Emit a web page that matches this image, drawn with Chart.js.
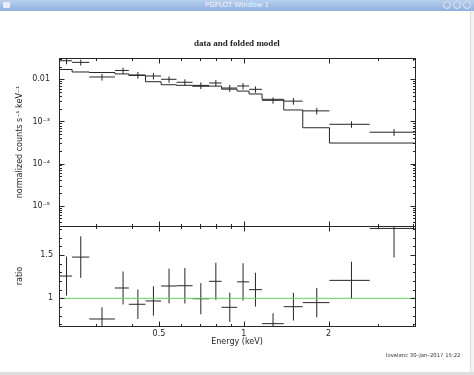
<!DOCTYPE html>
<html>
<head>
<meta charset="utf-8">
<script src="https://cdn.jsdelivr.net/npm/chart.js@4/dist/chart.umd.min.js"></script>
<style>
  html, body { margin: 0; padding: 0; background: #fff; }
  #win { position: relative; width: 474px; height: 375px; overflow: hidden; background: #fff; font-family: "DejaVu Sans", sans-serif; }
  #titlebar { position: absolute; left: 0; top: 0; width: 474px; height: 11px;
    background: linear-gradient(#b9cfee, #8fb0e0); color: #eef3fb; font-size: 7px; line-height: 11px; text-align: center; }
  #titlebar .icon { position: absolute; left: 3px; top: 2px; width: 7px; height: 6px; background: #e8eef8; border-radius: 1px; }
  #titlebar .btn { position: absolute; top: 1px; width: 8px; height: 8px; border-radius: 50%; background: #a9bfdf; border: 1px solid #dbe5f4; box-sizing: border-box; }
  #rightedge { position: absolute; left: 470px; top: 11px; width: 4px; height: 364px; background: #f3f3f3; border-left: 1px solid #dcdcdc; }
  #bottomedge { position: absolute; left: 0; top: 372px; width: 474px; height: 3px; background: #dedede; }
  #plottitle { position: absolute; left: 0; width: 474px; top: 38px; text-align: center;
    font-family: "Liberation Serif", serif; font-weight: bold; font-size: 9px; color: #222; }
  #footer { position: absolute; left: 386px; top: 352px; font-size: 5.3px; color: #333; white-space: nowrap; }
  canvas { position: absolute; left: 0; top: 0; }
</style>
</head>
<body>
<div id="win">
  <canvas id="chart" width="474" height="375"></canvas>
  <div id="titlebar"><span class="icon"></span>PGPLOT Window 1
    <span class="btn" style="left:443px"></span><span class="btn" style="left:453px"></span><span class="btn" style="left:463px"></span>
  </div>
  <div id="rightedge"></div>
  <div id="bottomedge"></div>
  <div id="plottitle">data and folded model</div>
  <div id="footer">lovelanc 30–Jan–2017 15:22</div>
</div>
<script>
// Channel bins (keV): edges and centres
const binEdges = [0.221, 0.246, 0.283, 0.349, 0.391, 0.448, 0.509, 0.577, 0.658, 0.753,
                  0.834, 0.947, 1.044, 1.161, 1.386, 1.619, 2.013, 2.797, 4.04];
const binCenters = [0.235, 0.264, 0.314, 0.373, 0.421, 0.478, 0.543, 0.618, 0.704, 0.796,
                    0.892, 0.994, 1.100, 1.270, 1.500, 1.815, 2.410, 3.412];

// Upper panel: data and folded model (counts s^-1 keV^-1)
const modelVals = [0.0219, 0.0171, 0.0149, 0.0145, 0.0134, 0.01235, 0.00876, 0.00742, 0.0072,
                   0.00683, 0.0069, 0.00583, 0.00525, 0.00448, 0.00335, 0.00187, 0.000708, 0.000307];
const dataVals = [0.0275, 0.0252, 0.01134, 0.0162, 0.01264, 0.01197, 0.0100, 0.00849, 0.00716,
                  0.00817, 0.0062, 0.00693, 0.00578, 0.00317, 0.00303, 0.00178, 0.000855, 0.000555];
const dataErrs = [0.0048, 0.0041, 0.0020, 0.00276, 0.0023, 0.0021, 0.00175, 0.00148, 0.0013,
                  0.00143, 0.00117, 0.00122, 0.0010, 0.00054, 0.00054, 0.00032, 0.00015, 0.000103];

// Lower panel: data / model ratio
const ratioVals = [1.257, 1.476, 0.761, 1.119, 0.931, 0.969, 1.142, 1.145, 0.995,
                   1.196, 0.896, 1.190, 1.100, 0.707, 0.903, 0.950, 1.207, 1.807];
const ratioErrs = [0.225, 0.24, 0.135, 0.19, 0.17, 0.17, 0.20, 0.205, 0.18,
                   0.215, 0.17, 0.215, 0.195, 0.12, 0.16, 0.17, 0.215, 0.335];

// Axis ranges and tick labels
const xRange = [0.221, 4.05];
const countsRange = [3.3e-6, 0.032];
const ratioRange = [0.68, 1.835];
const xMajor = [0.5, 1, 2];
const xMinor = [0.3, 0.4, 0.6, 0.7, 0.8, 0.9, 3, 4];
const countsMajor = [1e-5, 1e-4, 1e-3, 0.01];
const countsLabels = ['10⁻⁵', '10⁻⁴', '10⁻³', '0.01'];
const ratioMajor = [1, 1.5];
const ratioMinor = [0.7, 0.8, 0.9, 1.1, 1.2, 1.3, 1.4, 1.6, 1.7, 1.8];

const INK = '#262626';

// crosses: horizontal bin width + vertical error, separated by gaps
function crossPoints(vals, errs) {
    const pts = [];
    vals.forEach((v, i) => {
        pts.push({x: binEdges[i], y: v}, {x: binEdges[i + 1], y: v}, {x: binCenters[i], y: null});
        pts.push({x: binCenters[i], y: v - errs[i]}, {x: binCenters[i], y: v + errs[i]}, {x: binCenters[i], y: null});
    });
    return pts;
}

function stepPoints(vals) {
    const pts = vals.map((v, i) => ({x: binEdges[i], y: v}));
    pts.push({x: binEdges[vals.length], y: vals[vals.length - 1]});
    return pts;
}

// frame and inward ticks on every side of each panel
const framePlugin = {
    id: 'frame',
    afterDatasetsDraw(chart) {
        const ctx = chart.ctx;
        const xs = chart.scales.x;
        const panels = [
            {s: chart.scales.y, major: countsMajor, minor: []},
            {s: chart.scales.yRatio, major: ratioMajor, minor: ratioMinor}
        ];
        // log minor ticks for the counts axis
        [1e-6, 1e-5, 1e-4, 1e-3, 1e-2].forEach(d => {
            [2, 3, 4, 5, 6, 7, 8, 9].forEach(m => {
                const v = d * m;
                if (v > countsRange[0] && v < countsRange[1]) panels[0].minor.push(v);
            });
        });
        ctx.save();
        ctx.strokeStyle = INK;
        ctx.lineWidth = 1;
        panels.forEach(p => {
            const top = Math.round(p.s.top) + 0.5, bot = Math.round(p.s.bottom) + 0.5;
            const left = Math.round(xs.left) + 0.5, right = Math.round(xs.right) + 0.5;
            ctx.strokeRect(left, top, right - left, bot - top);
            ctx.beginPath();
            const xt = (vals, len) => vals.forEach(v => {
                const px = Math.round(xs.getPixelForValue(v)) + 0.5;
                ctx.moveTo(px, top); ctx.lineTo(px, top + len);
                ctx.moveTo(px, bot); ctx.lineTo(px, bot - len);
            });
            const yt = (vals, len) => vals.forEach(v => {
                const py = Math.round(p.s.getPixelForValue(v)) + 0.5;
                ctx.moveTo(left, py); ctx.lineTo(left + len, py);
                ctx.moveTo(right, py); ctx.lineTo(right - len, py);
            });
            xt(xMajor, 5); xt(xMinor, 2.5);
            yt(p.major, 5); yt(p.minor, 2.5);
            ctx.stroke();
        });
        ctx.restore();
    }
};

const tickFont = {family: "'DejaVu Sans', sans-serif", size: 8};

new Chart(document.getElementById('chart'), {
    type: 'line',
    data: {
        datasets: [
            {label: 'model', data: stepPoints(modelVals), yAxisID: 'y', stepped: 'after',
             borderColor: INK, borderWidth: 1, pointRadius: 0},
            {label: 'data', data: crossPoints(dataVals, dataErrs), yAxisID: 'y',
             borderColor: INK, borderWidth: 1, pointRadius: 0, spanGaps: false},
            {label: 'unity', data: [{x: xRange[0], y: 1}, {x: xRange[1], y: 1}], yAxisID: 'yRatio',
             borderColor: '#5fd35f', borderWidth: 1, pointRadius: 0},
            {label: 'ratio', data: crossPoints(ratioVals, ratioErrs), yAxisID: 'yRatio',
             borderColor: INK, borderWidth: 1, pointRadius: 0, spanGaps: false}
        ]
    },
    options: {
        responsive: false,
        animation: false,
        events: [],
        layout: {padding: {left: 0, right: 59, top: 58, bottom: 0}},
        plugins: {legend: {display: false}, tooltip: {enabled: false}, title: {display: false}},
        scales: {
            x: {
                type: 'logarithmic', min: xRange[0], max: xRange[1],
                grid: {display: false, drawTicks: false}, border: {display: false},
                afterBuildTicks: s => { s.ticks = xMajor.map(v => ({value: v})); },
                afterFit: s => { s.height = 49; },
                ticks: {font: tickFont, color: INK, padding: 3, maxRotation: 0, autoSkip: false,
                        callback: v => String(v)},
                title: {display: true, text: 'Energy (keV)', font: tickFont, color: INK,
                        padding: {top: 0, bottom: 28}}
            },
            // ratio panel listed first so the counts panel is stacked above it
            yRatio: {
                axis: 'y',
                type: 'linear', min: ratioRange[0], max: ratioRange[1],
                position: 'left', stack: 'panels', stackWeight: 100,
                grid: {display: false, drawTicks: false}, border: {display: false},
                afterBuildTicks: s => { s.ticks = ratioMajor.map(v => ({value: v})); },
                afterFit: s => { s.width = 59; },
                ticks: {font: tickFont, color: INK, padding: 6, autoSkip: false,
                        callback: v => String(v)},
                title: {display: true, text: 'ratio', font: tickFont, color: INK,
                        padding: {top: 15, bottom: 0}}
            },
            y: {
                type: 'logarithmic', min: countsRange[0], max: countsRange[1],
                position: 'left', stack: 'panels', stackWeight: 168,
                grid: {display: false, drawTicks: false}, border: {display: false},
                afterBuildTicks: s => { s.ticks = countsMajor.map(v => ({value: v})); },
                afterFit: s => { s.width = 59; },
                ticks: {font: tickFont, color: INK, padding: 9, autoSkip: false,
                        callback: (v, i) => countsLabels[i]},
                title: {display: true, text: 'normalized counts s⁻¹ keV⁻¹', font: tickFont, color: INK,
                        padding: {top: 15, bottom: 0}}
            }
        }
    },
    plugins: [framePlugin]
});
</script>
</body>
</html>
